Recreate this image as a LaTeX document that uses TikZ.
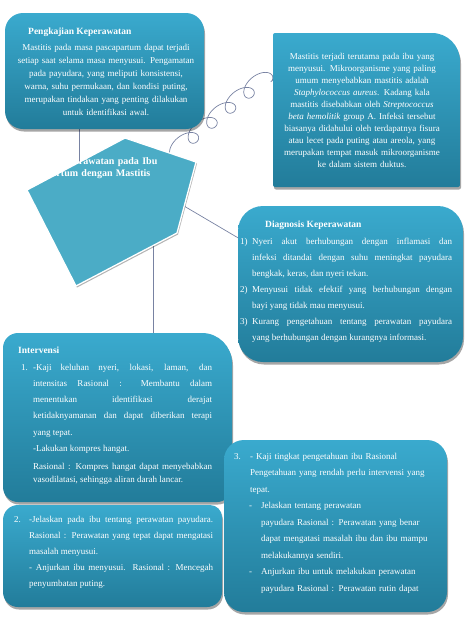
\documentclass[tikz,border=0pt]{standalone}
\usepackage{fontspec}
\setmainfont{Liberation Serif}
\usetikzlibrary{shadows}
\definecolor{boxtop}{RGB}{58,170,206}
\definecolor{boxbot}{RGB}{34,124,154}
\definecolor{pentfill}{RGB}{75,172,198}
\definecolor{linkcol}{RGB}{120,130,162}
\tikzset{
  boxshape/.style={top color=boxtop, bottom color=boxbot,
    drop shadow={shadow xshift=1pt, shadow yshift=-2.5pt, opacity=0.35, fill=black}},
  txt/.style={text=white, inner sep=0pt, anchor=base west},
  ttl/.style={text=white, inner sep=0pt, anchor=base west, font=\fontsize{9.5}{12}\selectfont\bfseries},
  link/.style={draw=linkcol, line width=0.7pt},
}
\newcommand\roundbox[9]{%
  \path[#1] (#2,{(#3+#5)/2}) [rounded corners=#6] -- (#2,#3) -- ({(#2+#4)/2},#3)
    [rounded corners=#7] -- (#4,#3) -- (#4,{(#3+#5)/2})
    [rounded corners=#8] -- (#4,#5) -- ({(#2+#4)/2},#5)
    [rounded corners=#9] -- (#2,#5) -- cycle;}
\begin{document}
\begin{tikzpicture}[x=1pt,y=-1pt]
\useasboundingbox (0,0) rectangle (474,632);
% pentagon corners
\coordinate (p1) at (125,138);
\coordinate (p2) at (196,162);
\coordinate (p3) at (177,233);
\coordinate (p4) at (76,286);
\coordinate (p5) at (27,190);
% connector end points
\coordinate (b1s) at (79,129);
\coordinate (pa) at (79,166);
\coordinate (cA) at (178,157);
\coordinate (cB) at (274,79);
\coordinate (pb) at (184,206);
\coordinate (dg) at (240,239);
\coordinate (pc) at (153,245);
\coordinate (iv) at (153,335);
\draw[link] (b1s) -- (pa);
% coiled connector from (cA) towards (cB)
\draw[link, shift={(cA)}, rotate=39]
  plot[domain=0:1800, samples=360, variable=\p, smooth]
  ({3.8*rad(\p) - 10.5*sin(\p)}, {-7.5*(1-cos(\p))}) -- (cB);
\draw[link] (pb) -- (dg);
\draw[link] (pc) -- (iv);
% boxes
\roundbox{boxshape}{5}{13}{204}{129}{18pt}{18pt}{18pt}{18pt}
\roundbox{boxshape}{273}{33}{460}{187}{2pt}{28pt}{2pt}{2pt}
\roundbox{boxshape}{238}{206}{463}{362}{25pt}{25pt}{25pt}{25pt}
\roundbox{boxshape}{3}{333}{232}{502}{15pt}{30pt}{15pt}{15pt}
\roundbox{boxshape}{3}{505}{222}{607}{15pt}{12pt}{15pt}{15pt}
\roundbox{boxshape}{224}{440}{447}{612}{20pt}{20pt}{20pt}{20pt}
% pentagon
\path[fill=pentfill, draw=white, line width=1.3pt,
  drop shadow={shadow xshift=1pt, shadow yshift=-1.5pt, opacity=0.3, fill=black}]
  (p1) -- (p2) -- (p3) -- (p4) -- (p5) -- cycle;
\begin{scope}
  \clip (p1) -- (p2) -- (p3) -- (p4) -- (p5) -- cycle;
  \node[ttl, anchor=base, align=center, text width=160pt, font=\fontsize{10}{12.5}\selectfont\bfseries] (ptitle) at (89,164)
    {Asuhan Keperawatan pada Ibu\\Postpartum dengan Mastitis};
\end{scope}
% box 1
\node[ttl] (t1) at (28,34.5) {Pengkajian Keperawatan};
\node[txt, anchor=base, text width=196pt, align=center, font=\fontsize{9}{13}\selectfont] (b1) at (106,50)
  {Mastitis pada masa pascapartum dapat terjadi\\
   setiap saat selama masa menyusui. Pengamatan\\
   pada payudara, yang meliputi konsistensi,\\
   warna, suhu permukaan, dan kondisi puting,\\
   merupakan tindakan yang penting dilakukan\\
   untuk identifikasi awal.};
% box 2
\node[txt, anchor=base, text width=185pt, align=center, font=\fontsize{9}{12}\selectfont] (b2) at (362,59)
  {Mastitis terjadi terutama pada ibu yang\\
   menyusui. Mikroorganisme yang paling\\
   umum menyebabkan mastitis adalah\\
   \textit{Staphylococcus aureus}. Kadang kala\\
   mastitis disebabkan oleh \textit{Streptococcus}\\
   \textit{beta hemolitik} group A. Infeksi tersebut\\
   biasanya didahului oleh terdapatnya fisura\\
   atau lecet pada puting atau areola, yang\\
   merupakan tempat masuk mikroorganisme\\
   ke dalam sistem duktus.};
% diagnosis
\node[ttl] (t3) at (265,227) {Diagnosis Keperawatan};
\tikzset{dgt/.style={txt, text width=200pt, align=justify, font=\fontsize{9}{16}\selectfont}}
\node[txt, font=\fontsize{9}{16}\selectfont] (n1) at (240,244) {1)};
\node[dgt] (d1) at (252,244)
  {Nyeri akut berhubungan dengan inflamasi dan\linebreak
   infeksi ditandai dengan suhu meningkat payudara\linebreak
   bengkak, keras, dan nyeri tekan.};
\node[txt, font=\fontsize{9}{16}\selectfont] (n2) at (240,292) {2)};
\node[dgt] (d2) at (252,292)
  {Menyusui tidak efektif yang berhubungan dengan\linebreak
   bayi yang tidak mau menyusui.};
\node[txt, font=\fontsize{9}{16}\selectfont] (n3) at (240,324) {3)};
\node[dgt] (d3) at (252,324)
  {Kurang pengetahuan tentang perawatan payudara\linebreak
   yang berhubungan dengan kurangnya informasi.};
% intervensi
\node[ttl] (t4) at (18,353) {Intervensi};
\node[txt, font=\fontsize{9}{16.3}\selectfont] (n4) at (21,370) {1.};
\node[txt, text width=179pt, align=justify, font=\fontsize{9}{16.3}\selectfont] (i1) at (33,370)
  {-Kaji keluhan nyeri, lokasi, laman, dan\linebreak
   intensitas Rasional : Membantu dalam\linebreak
   menentukan identifikasi derajat\linebreak
   ketidaknyamanan dan dapat diberikan terapi\linebreak
   yang tepat.\newline
   -Lakukan kompres hangat.};
\node[txt, text width=179pt, align=justify, font=\fontsize{9}{13}\selectfont] (i2) at (33,469)
  {Rasional : Kompres hangat dapat menyebabkan\linebreak
   vasodilatasi, sehingga aliran darah lancar.};
% box bottom left
\node[txt, font=\fontsize{9}{16}\selectfont] (n5) at (14,522) {2.};
\node[txt, text width=184pt, align=justify, font=\fontsize{9}{16}\selectfont] (i3) at (29,522)
  {-Jelaskan pada ibu tentang perawatan payudara.\linebreak
   Rasional : Perawatan yang tepat dapat mengatasi\linebreak
   masalah menyusui.\newline
   - Anjurkan ibu menyusui. Rasional : Mencegah\linebreak
   penyumbatan puting.};
% box bottom right
\tikzset{rt/.style={txt, text width=190pt, align=left, font=\fontsize{9}{16.5}\selectfont}}
\node[txt, font=\fontsize{9}{16.5}\selectfont] (n6) at (234,459) {3.};
\node[rt] (r1) at (250,459)
  {- Kaji tingkat pengetahuan ibu Rasional\\
   Pengetahuan yang rendah perlu intervensi yang\\
   tepat.};
\node[txt, font=\fontsize{9}{16.5}\selectfont] (m1) at (249,508.5) {-};
\node[rt] (r2) at (261,508.5)
  {Jelaskan tentang perawatan\\
   payudara Rasional : Perawatan yang benar\\
   dapat mengatasi masalah ibu dan ibu mampu\\
   melakukannya sendiri.};
\node[txt, font=\fontsize{9}{16.5}\selectfont] (m2) at (249,574.5) {-};
\node[rt] (r3) at (261,574.5)
  {Anjurkan ibu untuk melakukan perawatan\\
   payudara Rasional : Perawatan rutin dapat};
\end{tikzpicture}
\end{document}
